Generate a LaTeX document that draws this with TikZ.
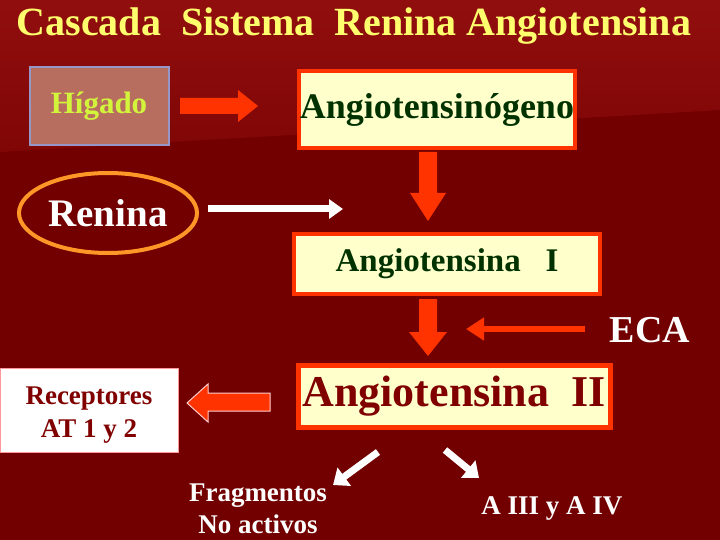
\documentclass[tikz,border=0pt]{standalone}
\usepackage{fontspec}
\setmainfont{Liberation Serif}
\newfontfamily\cond{Liberation Serif}
\usetikzlibrary{shapes.geometric,shapes.arrows,arrows.meta}
\definecolor{bgdark}{RGB}{114,0,0}
\definecolor{bgtop}{RGB}{145,14,14}
\definecolor{bgmid}{RGB}{128,6,6}
\definecolor{titley}{RGB}{255,255,110}
\definecolor{boxfill}{RGB}{255,255,204}
\definecolor{boxred}{RGB}{255,51,0}
\definecolor{higfill}{RGB}{184,110,95}
\definecolor{higborder}{RGB}{150,150,200}
\definecolor{higtext}{RGB}{210,245,60}
\definecolor{dgreen}{RGB}{0,50,0}
\definecolor{dred}{RGB}{128,0,0}
\definecolor{orng}{RGB}{255,150,40}
\tikzset{
  ybox/.style={draw=boxred, line width=4pt, fill=boxfill, inner sep=0pt},
  blockarrow/.style={fill=boxred, draw=none},
  whitearrow/.style={draw=white, line width=7pt, -{Triangle[length=14pt,width=19pt]}},
  whitediag/.style={draw=white, line width=7pt, -{Triangle[length=14pt,width=22pt]}},
  redthin/.style={draw=boxred, line width=6pt, -{Triangle[length=18pt,width=22pt]}},
}
\begin{document}
\begin{tikzpicture}[x=1pt,y=-1pt]
\useasboundingbox (0,0) rectangle (720,540);
\fill[bgdark] (0,0) rectangle (720,540);
\shade[top color=bgtop, bottom color=bgmid] (0,0) -- (720,0) -- (720,110) -- (0,152) -- cycle;
% title
\node[text=titley, font=\cond\bfseries\fontsize{40}{42}\selectfont] (title) at (354,26) {Cascada\ \ Sistema\ \ Renina Angiotensina};
% Higado
\node[draw=higborder, line width=2pt, fill=higfill, minimum width=139pt, minimum height=78pt, text=higtext, font=\cond\bfseries\fontsize{31}{33}\selectfont] (hig) at (99,106) {Hígado};
% Angiotensinogeno
\node[ybox, minimum width=276pt, minimum height=77pt, text=dgreen, font=\cond\bfseries\fontsize{36}{38}\selectfont] (agen) at (437,110) {Angiotensinógeno};
% block arrow higado -> agen
\fill[blockarrow] (180,98) -- (238,98) -- (238,90) -- (258,106) -- (238,122) -- (238,114) -- (180,114) -- cycle;
% Renina
\node[ellipse, draw=orng, line width=4pt, minimum width=172pt, minimum height=80pt, text=white, font=\cond\bfseries\fontsize{39}{40}\selectfont] (ren) at (108,213) {Renina};
\coordinate (renEnd) at (343,209);
\draw[whitearrow] (ren.east) ++(9,-4) -- (renEnd);
% Angiotensina I
\node[ybox, minimum width=306pt, minimum height=60pt, text=dgreen, font=\cond\bfseries\fontsize{33}{35}\selectfont] (a1) at (447,264) {Angiotensina\ \ \ I};
% vertical arrow agen -> a1
\fill[blockarrow] (419,152) -- (437,152) -- (437,193) -- (446,193) -- (428,221) -- (410,193) -- (419,193) -- cycle;
% Angiotensina II
\node[ybox, line width=5pt, minimum width=312pt, minimum height=62pt, text=dred, font=\cond\bfseries\fontsize{44}{46}\selectfont] (a2) at (454,396) {Angiotensina\ \ II};
% vertical arrow a1 -> a2
\fill[blockarrow] (419,299) -- (437,299) -- (437,332) -- (447,332) -- (428,356) -- (409,332) -- (419,332) -- cycle;
% ECA
\node[text=white, font=\cond\bfseries\fontsize{38}{40}\selectfont] (eca) at (650,330) {ECA};
\coordinate (ecaTip) at (466,329);
\draw[redthin] (585,329) -- (ecaTip);
% Receptores
\node[draw=red!40, line width=1pt, fill=white, minimum width=178pt, minimum height=84pt] (rec) at (89,410) {};
\node[align=center, text=dred, font=\cond\bfseries\fontsize{27}{33}\selectfont] (recText) at (89,415) {Receptores\\AT 1 y 2};
% left block arrow
\fill[boxred, draw=red!20, line width=1pt] (270,393) -- (208,393) -- (208,384) -- (187,403) -- (208,422) -- (208,411) -- (270,411) -- cycle;
% lower texts and diagonal arrows
\node[text=white, align=center, font=\cond\bfseries\fontsize{27}{32}\selectfont] (frag) at (258,509) {Fragmentos\\No activos};
\node[text=white, font=\cond\bfseries\fontsize{27}{29}\selectfont] (aiii) at (552,508) {A III y A IV};
\coordinate (d1s) at (378,452);
\coordinate (d1e) at (333,485);
\coordinate (d2s) at (445,450);
\coordinate (d2e) at (479,478);
\draw[whitediag] (d1s) -- (d1e);
\draw[whitediag] (d2s) -- (d2e);
\end{tikzpicture}
\end{document}
